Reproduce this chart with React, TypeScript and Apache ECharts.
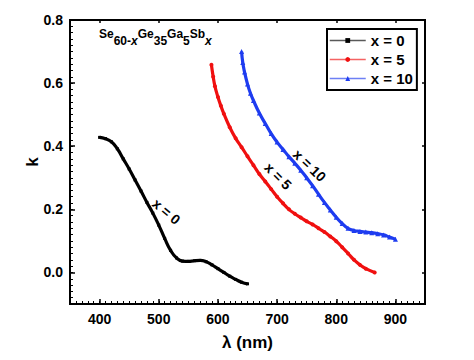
import React, { useEffect, useRef } from 'react';
import * as echarts from 'echarts';

const lambda0 = [400, 410, 420, 430, 440, 450, 460, 470, 480, 490, 500, 510, 520, 530, 540, 550, 560, 570, 580, 590, 600, 610, 620, 630, 640, 650];
const k0 = [0.428, 0.424, 0.414, 0.392, 0.36, 0.328, 0.293, 0.258, 0.222, 0.188, 0.15, 0.108, 0.07, 0.046, 0.036, 0.035, 0.037, 0.038, 0.034, 0.024, 0.012, 0.0, -0.012, -0.022, -0.031, -0.036];

const lambda5 = [589, 592, 595, 600, 605, 610, 620, 630, 640, 650, 660, 670, 680, 690, 700, 710, 720, 730, 740, 750, 760, 770, 780, 790, 800, 810, 820, 830, 840, 850, 865];
const k5 = [0.658, 0.62, 0.59, 0.556, 0.528, 0.503, 0.46, 0.425, 0.397, 0.368, 0.34, 0.312, 0.288, 0.264, 0.24, 0.219, 0.2, 0.186, 0.174, 0.162, 0.152, 0.14, 0.128, 0.114, 0.099, 0.08, 0.06, 0.04, 0.024, 0.012, 0.0];

const lambda10 = [640, 642, 645, 650, 655, 660, 670, 680, 690, 700, 710, 720, 730, 740, 750, 760, 770, 780, 790, 800, 810, 820, 830, 840, 850, 860, 870, 880, 890, 900];
const k10 = [0.7, 0.665, 0.635, 0.597, 0.568, 0.545, 0.505, 0.472, 0.44, 0.413, 0.39, 0.367, 0.346, 0.324, 0.3, 0.275, 0.248, 0.222, 0.198, 0.175, 0.155, 0.14, 0.133, 0.13, 0.128, 0.126, 0.123, 0.119, 0.112, 0.105];

const seriesNames = ['x = 0', 'x = 5', 'x = 10'];
const xTicks = [400, 500, 600, 700, 800, 900];
const yTicks = [0, 0.2, 0.4, 0.6, 0.8];
const xTitle = 'λ (nm)';
const yTitle = 'k';

// curve annotation anchors (data coords) and angles
const curveLabels = [
  { text: 'x = 0', at: [513, 0.193], angle: 40 },
  { text: 'x = 5', at: [702, 0.305], angle: 45 },
  { text: 'x = 10', at: [755, 0.339], angle: 44 },
];

const zip = (a: number[], b: number[]) => a.map((v, i) => [v, b[i]]);

export default function App() {
  const ref = useRef<HTMLDivElement>(null);
  useEffect(() => {
    const chart = echarts.init(ref.current!, null, { renderer: 'svg' });
    const font = '"Liberation Sans", Arial, sans-serif';
    const lbl = { fontFamily: font, fontWeight: 'bold' as const, fontSize: 14, color: '#000' };
    const tickLine = { color: '#000', width: 1.5 };
    const noLine = { show: false, onZero: false };
    const xBase = { type: 'value' as const, min: 350, max: 950, splitLine: { show: false }, axisLine: noLine };
    const yBase = { type: 'value' as const, min: -0.1, max: 0.8, splitLine: { show: false }, axisLine: noLine };
    const colors = ['#000000', '#f01010', '#1e3cf0'];
    chart.setOption({
      animation: false,
      backgroundColor: '#fff',
      grid: { left: 70, right: 49, top: 20, bottom: 56, show: true, borderColor: '#000', borderWidth: 2, backgroundColor: 'transparent' },
      xAxis: [
        {
          ...xBase, position: 'bottom',
          axisTick: { inside: true, length: 5, customValues: xTicks, lineStyle: tickLine },
          axisLabel: { customValues: xTicks, margin: 8, ...lbl },
          name: xTitle, nameLocation: 'middle', nameGap: 30,
          nameTextStyle: { fontFamily: font, fontWeight: 'bold', fontSize: 17, color: '#000' },
        },
        { ...xBase, position: 'bottom', interval: 10, axisTick: { inside: true, length: 3, lineStyle: { color: '#000', width: 1 } }, axisLabel: { show: false } },
        { ...xBase, position: 'top', axisTick: { inside: true, length: 3, customValues: xTicks, lineStyle: tickLine }, axisLabel: { show: false } },
      ],
      yAxis: [
        {
          ...yBase, position: 'left',
          axisTick: { inside: true, length: 5, customValues: yTicks, lineStyle: tickLine },
          axisLabel: { customValues: yTicks, margin: 7, formatter: (v: number) => v.toFixed(1), ...lbl },
        },
        { ...yBase, position: 'left', interval: 0.02, axisTick: { inside: true, length: 3, lineStyle: { color: '#000', width: 1 } }, axisLabel: { show: false } },
        { ...yBase, position: 'right', axisTick: { inside: true, length: 3, customValues: yTicks, lineStyle: tickLine }, axisLabel: { show: false } },
      ],
      legend: {
        orient: 'vertical', left: 327, top: 29,
        data: seriesNames,
        backgroundColor: '#fff', borderColor: '#000', borderWidth: 2, borderRadius: 0,
        padding: [4, 4, 4, 2], itemWidth: 36, itemHeight: 6, itemGap: 4,
        textStyle: { fontFamily: font, fontWeight: 'bold', fontSize: 15, color: '#000' },
        lineStyle: { width: 1.5, opacity: 0.65 },
      },
      series: [
        { name: seriesNames[0], type: 'line', data: zip(lambda0, k0), color: colors[0], symbol: 'rect', symbolSize: 3, showSymbol: true, smooth: true, lineStyle: { width: 3.2 } },
        { name: seriesNames[1], type: 'line', data: zip(lambda5, k5), color: colors[1], symbol: 'circle', symbolSize: 4, showSymbol: true, smooth: true, lineStyle: { width: 3.2 } },
        { name: seriesNames[2], type: 'line', data: zip(lambda10, k10), color: colors[2], symbol: 'triangle', symbolSize: 5, showSymbol: true, smooth: true, lineStyle: { width: 3.2 } },
      ],
    });
    const texts: any[] = curveLabels.map((c) => {
      const p = chart.convertToPixel({ gridIndex: 0 }, c.at) as number[];
      return {
        type: 'text', x: p[0], y: p[1], rotation: (-c.angle * Math.PI) / 180,
        style: { text: c.text, fontFamily: font, fontWeight: 'bold', fontSize: 14, fill: '#000', align: 'center', verticalAlign: 'middle' },
      };
    });
    texts.push({
      type: 'text', x: 32, y: 162, rotation: Math.PI / 2,
      style: { text: yTitle, fontFamily: font, fontWeight: 'bold', fontSize: 17, fill: '#000', align: 'center', verticalAlign: 'middle' },
    });
    texts.push({
      type: 'text', left: 99, top: 28,
      style: {
        text: '{n|Se}{s|60-}{si|x}{n|Ge}{s|35}{n|Ga}{s|5}{n|Sb}{si|x}',
        rich: {
          n: { fontFamily: font, fontWeight: 'bold', fontSize: 12, fill: '#000', padding: [0, 0, 7, 0] },
          s: { fontFamily: font, fontWeight: 'bold', fontSize: 12, fill: '#000', padding: [7, 0, 0, 0] },
          si: { fontFamily: font, fontWeight: 'bold', fontStyle: 'italic', fontSize: 12, fill: '#000', padding: [7, 0, 0, 0] },
        },
      },
    });
    chart.setOption({ graphic: texts });
    return () => chart.dispose();
  }, []);
  return <div ref={ref} style={{ position: 'fixed', left: 0, top: 0, width: 474, height: 360 }} />;
}
